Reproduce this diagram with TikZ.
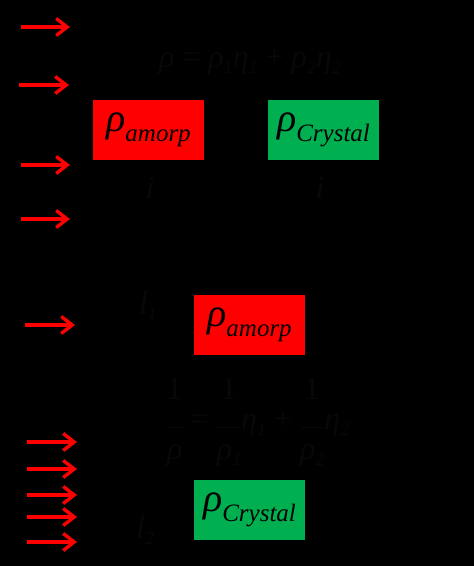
\documentclass[tikz,border=0pt]{standalone}
\usepackage{fontspec}
\setmainfont{Liberation Serif}
\usepackage{tikz}
\usetikzlibrary{arrows.meta}
\definecolor{boxred}{RGB}{255,0,0}
\definecolor{boxgreen}{RGB}{0,176,80}
\definecolor{inkfaint}{RGB}{8,8,8}
\newcommand{\phaserho}[1]{{\fontsize{40}{42}\selectfont\itshape ρ}\raisebox{-10pt}{\fontsize{25}{27}\selectfont\itshape #1}}
\newcommand{\sml}[1]{\raisebox{-6pt}{\fontsize{18}{20}\selectfont #1}}
\tikzset{
  redarrow/.style={draw=red, line width=3.4pt, -{Straight Barb[length=11pt,width=17pt,line width=3.4pt]}},
  phasebox/.style={minimum width=111pt, minimum height=60pt, inner sep=0pt, text=black},
  faintmath/.style={text=inkfaint, font=\fontsize{32}{34}\selectfont\itshape}
}
\begin{document}
\begin{tikzpicture}[x=1pt,y=-1pt]
\fill[black] (0,0) rectangle (474,566) ;
\useasboundingbox (0,0) rectangle (474,566) ;
\draw[redarrow] (21,27) -- (70,27) ;
\draw[redarrow] (19,85) -- (69,85) ;
\draw[redarrow] (21,165) -- (70,165) ;
\draw[redarrow] (21,219) -- (70,219) ;
\draw[redarrow] (25,325) -- (75,325) ;
\draw[redarrow] (27,442) -- (77,442) ;
\draw[redarrow] (27,469) -- (77,469) ;
\draw[redarrow] (27,495) -- (77,495) ;
\draw[redarrow] (27,517) -- (77,517) ;
\draw[redarrow] (27,542) -- (77,542) ;
\node[faintmath] (mix) at (250,62) {ρ {\upshape=} ρ\sml{1}η\sml{1} {\upshape+} ρ\sml{2}η\sml{2}} ;
\node[phasebox, fill=boxred] (amorp) at (148.5,129.5) {\phaserho{amorp}} ;
\node[phasebox, fill=boxgreen] (cryst) at (323.5,130) {\phaserho{Crystal}} ;
\node[faintmath] (ia) at (150,188) {i} ;
\node[faintmath] (ic) at (320,188) {i} ;
\node[faintmath] (lone) at (148,305) {l\sml{1}} ;
\node[phasebox, fill=boxred] (amorpb) at (249.5,325) {\phaserho{amorp}} ;
\node[faintmath, align=center] (inv) at (258,423) {%
  \begin{tabular}{@{}c@{}}{\upshape 1}\\[-6pt]\rule{14pt}{1pt}\\[-2pt]ρ\end{tabular}
  {\upshape=}
  \begin{tabular}{@{}c@{}}{\upshape 1}\\[-6pt]\rule{22pt}{1pt}\\[-2pt]ρ\sml{1}\end{tabular}η\sml{1}
  {\upshape+}
  \begin{tabular}{@{}c@{}}{\upshape 1}\\[-6pt]\rule{22pt}{1pt}\\[-2pt]ρ\sml{2}\end{tabular}η\sml{2}} ;
\node[phasebox, fill=boxgreen] (crystb) at (249.5,510) {\phaserho{Crystal}} ;
\node[faintmath] (ltwo) at (145,530) {l\sml{2}} ;
\end{tikzpicture}
\end{document}
